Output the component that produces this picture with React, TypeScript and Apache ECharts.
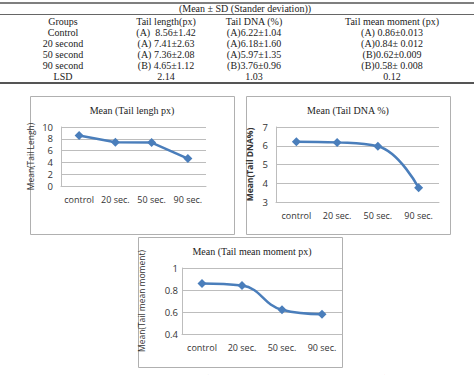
import React, { useEffect, useRef } from "react";
import * as echarts from "echarts";

const categories = ["control", "20 sec.", "50 sec.", "90 sec."];
const tailLength = [8.56, 7.41, 7.36, 4.65];
const tailDNA = [6.22, 6.18, 5.97, 3.76];
const tailMoment = [0.86, 0.84, 0.62, 0.58];

const tableHeader = ["Groups", "Tail length(px)", "Tail DNA (%)", "Tail mean moment (px)"];
const tableGroups = ["Control", "20 second", "50 second", "90 second", "LSD"];
const tableLength = ["(A)  8.56±1.42", "(A) 7.41±2.63", "(A) 7.36±2.08", "(B) 4.65±1.12", "2.14"];
const tableDNA = ["(A)6.22±1.04", "(A)6.18±1.60", "(A)5.97±1.35", "(B)3.76±0.96", "1.03"];
const tableMoment = ["(A) 0.86±0.013", "(A)0.84± 0.012", "(B)0.62±0.009", "(B)0.58± 0.008", "0.12"];

const SANS = "'Open Sans', 'Liberation Sans', sans-serif";
const SERIF = "'Liberation Serif', 'DejaVu Serif', serif";
const BLUE = "#4a7ebb";

export default function App() {
  const ref = useRef<HTMLDivElement>(null);
  useEffect(() => {
    document.body.style.margin = "0";
    const chart = echarts.init(ref.current!, null, { renderer: "svg" });
    const colX = [63, 166, 254, 392];
    const rowY = [32, 43, 54, 65, 76];
    const tableTexts: any[] = [];
    tableHeader.forEach((h, i) =>
      tableTexts.push({ type: "text", x: colX[i], y: 21, style: { text: h, font: `10px ${SERIF}`, fill: "#222", textAlign: "center", textVerticalAlign: "middle" } })
    );
    const cols = [tableGroups, tableLength, tableDNA, tableMoment];
    cols.forEach((col, ci) =>
      col.forEach((t, ri) =>
        tableTexts.push({ type: "text", x: colX[ci], y: rowY[ri], style: { text: t, font: `10px ${SERIF}`, fill: "#222", textAlign: "center", textVerticalAlign: "middle" } })
      )
    );

    const axisBase = {
      axisLine: { show: true, lineStyle: { color: "#bdbdbd", width: 1 } },
      axisTick: { show: false },
      splitLine: { show: true, lineStyle: { color: "#bdbdbd", width: 1 } },
    };
    const xBase = (gi: number) => ({
      type: "category",
      gridIndex: gi,
      data: categories,
      boundaryGap: true,
      axisLine: { show: true, lineStyle: { color: "#bdbdbd" } },
      axisTick: { show: false },
      axisLabel: { color: "#333", fontFamily: SANS, fontSize: 9, margin: 9, interval: 0 },
    });

    const option: any = {
      animation: false,
      backgroundColor: "#fff",
      grid: [
        { left: 61, top: 127, width: 145, height: 59 },
        { left: 276, top: 127, width: 163, height: 75 },
        { left: 182, top: 268, width: 160, height: 66 },
      ],
      xAxis: [xBase(0), xBase(1), xBase(2)],
      yAxis: [
        {
          type: "value", gridIndex: 0, min: 0, max: 10, interval: 2, ...axisBase,
          axisLabel: { color: "#333", fontFamily: SANS, fontSize: 9.5, margin: 8 },
          name: "Mean(Tail Lengh)", nameLocation: "middle", nameGap: 26, nameRotate: 90,
          nameTextStyle: { color: "#333", fontFamily: SANS, fontSize: 8.5 },
        },
        {
          type: "value", gridIndex: 1, min: 3, max: 7, interval: 1, ...axisBase,
          axisLabel: { color: "#333", fontFamily: SANS, fontSize: 9.5, margin: 8 },
          name: "Mean(Tail DNA%)", nameLocation: "middle", nameGap: 22, nameRotate: 90,
          nameTextStyle: { color: "#333", fontFamily: SANS, fontSize: 8.5, fontWeight: "bold" },
        },
        {
          type: "value", gridIndex: 2, min: 0.4, max: 1, interval: 0.2, ...axisBase,
          axisLabel: { color: "#333", fontFamily: SANS, fontSize: 9.5, margin: 4 },
          name: "Mean(Tail mean moment)", nameLocation: "middle", nameGap: 36, nameRotate: 90,
          nameTextStyle: { color: "#333", fontFamily: SANS, fontSize: 8.5 },
        },
      ],
      series: [
        {
          type: "line", xAxisIndex: 0, yAxisIndex: 0, data: tailLength, smooth: false,
          symbol: "diamond", symbolSize: 9, lineStyle: { color: BLUE, width: 2.5 }, itemStyle: { color: BLUE },
        },
        {
          type: "line", xAxisIndex: 1, yAxisIndex: 1, data: tailDNA, smooth: 0.45,
          symbol: "diamond", symbolSize: 9, lineStyle: { color: BLUE, width: 2.5 }, itemStyle: { color: BLUE },
        },
        {
          type: "line", xAxisIndex: 2, yAxisIndex: 2, data: tailMoment, smooth: 0.45,
          symbol: "diamond", symbolSize: 9, lineStyle: { color: BLUE, width: 2.5 }, itemStyle: { color: BLUE },
        },
      ],
      graphic: [
        { type: "line", shape: { x1: 0, y1: 3, x2: 474, y2: 3 }, style: { stroke: "#555", lineWidth: 1.5 } },
        { type: "line", shape: { x1: 0, y1: 14.5, x2: 474, y2: 14.5 }, style: { stroke: "#666", lineWidth: 1 } },
        { type: "line", shape: { x1: 0, y1: 83, x2: 474, y2: 83 }, style: { stroke: "#555", lineWidth: 2 } },
        { type: "text", x: 245, y: 8.5, style: { text: "(Mean ± SD (Stander deviation))", font: `10px ${SERIF}`, fill: "#222", textAlign: "center", textVerticalAlign: "middle" } },
        ...tableTexts,
        { type: "rect", shape: { x: 30.5, y: 96.5, width: 204, height: 138 }, style: { fill: "none", stroke: "#b0b0b0", lineWidth: 1 }, z: -1 },
        { type: "rect", shape: { x: 246.5, y: 96.5, width: 204, height: 138 }, style: { fill: "none", stroke: "#b0b0b0", lineWidth: 1 }, z: -1 },
        { type: "rect", shape: { x: 138.5, y: 237.5, width: 204, height: 130 }, style: { fill: "none", stroke: "#b0b0b0", lineWidth: 1 }, z: -1 },
        { type: "text", x: 132, y: 110, style: { text: "Mean (Tail lengh px)", font: `10px ${SERIF}`, fill: "#222", textAlign: "center", textVerticalAlign: "middle" } },
        { type: "text", x: 348, y: 110, style: { text: "Mean (Tail DNA %)", font: `10px ${SERIF}`, fill: "#222", textAlign: "center", textVerticalAlign: "middle" } },
        { type: "text", x: 252, y: 251, style: { text: "Mean (Tail mean moment px)", font: `10px ${SERIF}`, fill: "#222", textAlign: "center", textVerticalAlign: "middle" } },
        { type: "text", x: 240, y: 378, style: { text: "Figure 4: Shows the mean (tail length, tail DNA% tail mean moment)", font: `bold 10px ${SERIF}`, fill: "#111", textAlign: "center", textVerticalAlign: "middle" } },
      ],
    };
    chart.setOption(option);
    return () => chart.dispose();
  }, []);
  return <div ref={ref} style={{ width: 474, height: 375 }} />;
}
